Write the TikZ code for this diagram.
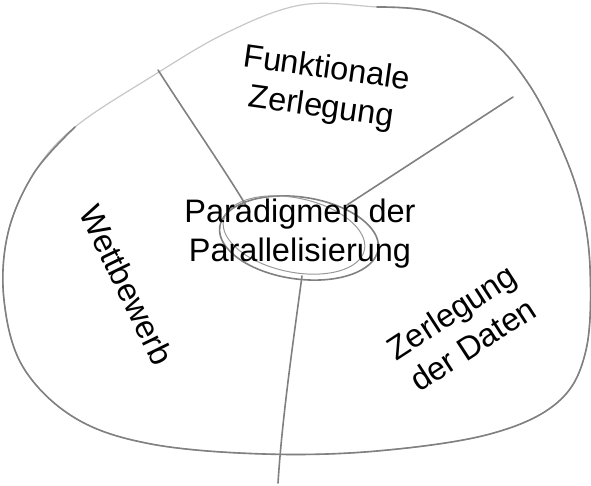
\documentclass[tikz,border=0pt]{standalone}
\usepackage{fontspec}
\setmainfont{Liberation Sans}
\begin{document}
\begin{tikzpicture}[x=1pt,y=-1pt,
  sketch/.style={draw=black!50,line width=1.6pt,line cap=round,line join=round},
  thinsketch/.style={draw=black!40,line width=1pt,line cap=round},
  faint/.style={draw=black!22,line width=1.2pt,line cap=round},
  label/.style={align=center,font=\fontsize{32.5}{39}\selectfont,inner sep=0pt}]
\useasboundingbox (0,0) rectangle (591,486);
% outer loop
\draw[faint] plot[smooth cycle,tension=0.6] coordinates {
  (301,5) (377,7) (433,12) (490,40) (528,83) (558,140) (580,200) (590,267)
  (586,350) (558,402) (490,434) (377,451) (264,454) (151,444) (75,418)
  (23,367) (4,300) (8,233) (34,173) (75,127) (151,77) (226,33)};
\draw[sketch] plot[smooth,tension=0.6] coordinates {
  (377,7) (433,12) (490,40) (528,83) (558,140) (580,200) (590,267)
  (586,350) (558,402) (490,434) (377,451) (264,454) (151,444) (75,418)
  (23,367) (4,300) (8,233) (34,173) (75,127)};
% small loop
\draw[sketch] (299,238) ellipse[x radius=80,y radius=41,rotate=-8];
\draw[thinsketch] (294,235) ellipse[x radius=72,y radius=37,rotate=-12];
% spokes
\coordinate (s1a) at (158,70);
\coordinate (s1b) at (250,212);
\coordinate (s2a) at (513,97);
\coordinate (s2b) at (347,205);
\coordinate (s3a) at (302,276);
\coordinate (s3b) at (278,483);
\draw[sketch] (s1a) .. controls (190,120) and (225,170) .. (s1b);
\draw[sketch] (s2a) -- (s2b);
\draw[sketch] (s3a) .. controls (292,350) and (282,420) .. (s3b);
% labels
\node[label] (center) at (300,234) {Paradigmen der\\Parallelisierung};
\node[label,rotate=-8] (funk) at (324,89) {Funktionale\\Zerlegung};
\node[label,rotate=-64] (wett) at (127,285) {Wettbewerb};
\node[label,rotate=33] (daten) at (462,328) {Zerlegung\\der Daten};
\end{tikzpicture}
\end{document}
